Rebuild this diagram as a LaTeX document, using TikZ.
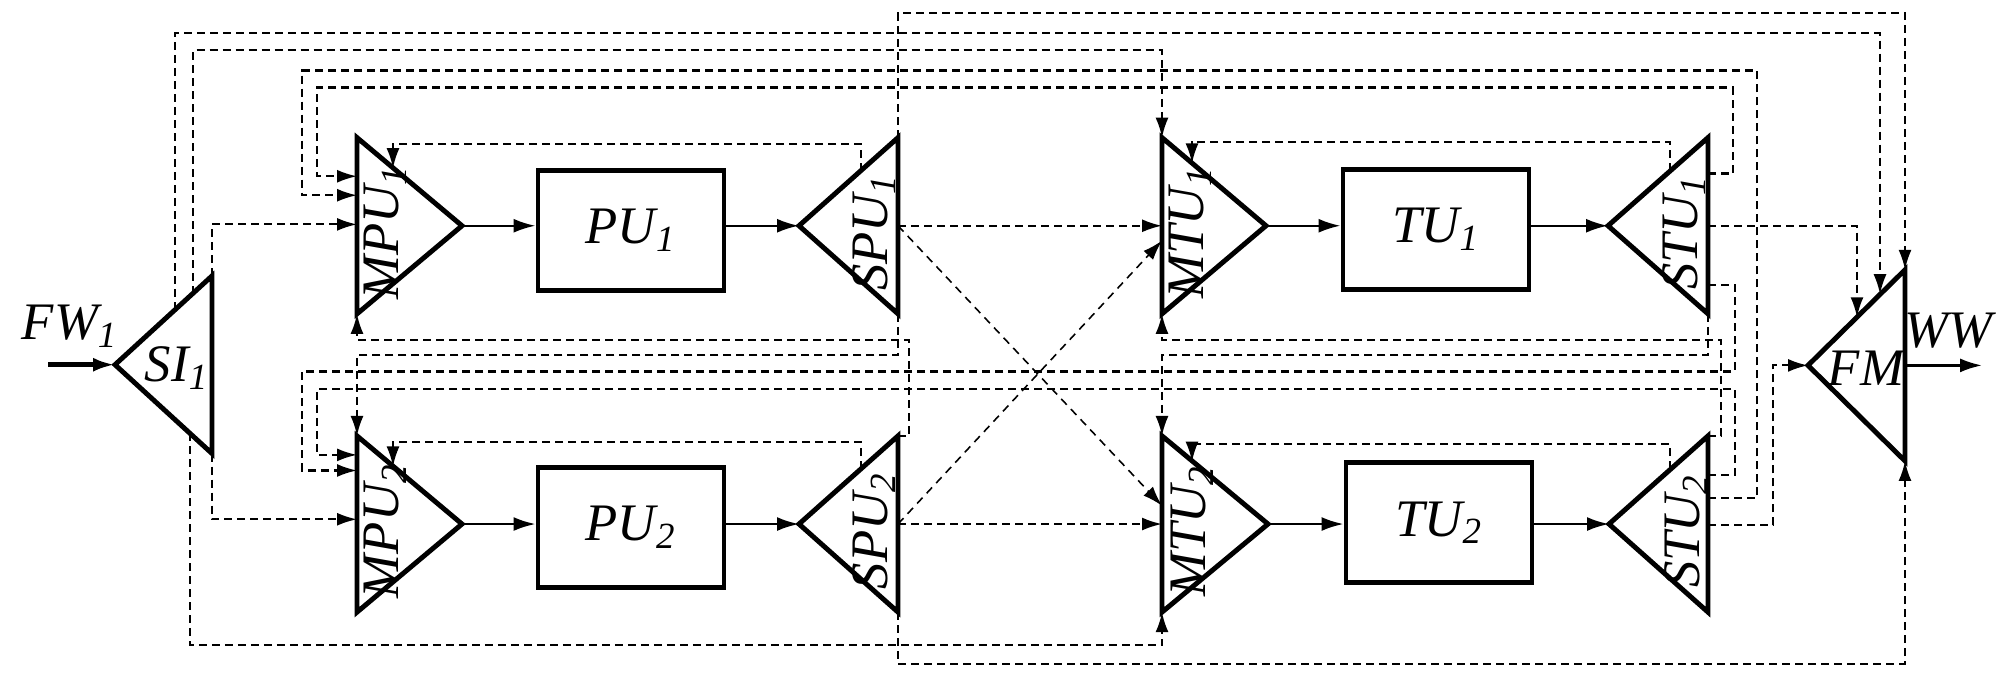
\documentclass[tikz,border=0pt]{standalone}
\usepackage{fontspec}
\setmainfont{Liberation Serif}
\usetikzlibrary{arrows.meta}

\tikzset{
 blk/.style={line width=1.4pt, line join=miter},
 box/.style={draw, line width=1.4pt, minimum width=18.6mm, minimum height=12mm},
 lbl/.style={font=\fontsize{15}{18}\selectfont\itshape, inner sep=0pt},
 flow/.style={line width=0.7pt, -{Latex[length=2.2mm,width=1.4mm]}},
 sig/.style={line width=0.6pt, dash pattern=on 0.8mm off 0.5mm, -{Latex[length=2mm,width=1.3mm]}}
}

% triangle: name, base x, top y, bottom y, apex x
\newcommand{\trig}[5]{%
 \coordinate (#1-t) at (#2,#3);
 \coordinate (#1-b) at (#2,#4);
 \coordinate (#1-a) at (#5,{(#3+#4)/2});
 \draw[blk] (#1-t) -- (#1-a) -- (#1-b) -- cycle;}

\begin{document}
\begin{tikzpicture}[x=0.1mm,y=-0.0678mm]
\useasboundingbox (0,-3) rectangle (1998,1003);
%\draw[help lines] (0,0) grid[step=100] (1998,1003);

 \trig{SI}{212}{404}{666}{115}
 \trig{MPU1}{357}{200}{460}{462}
 \trig{MPU2}{357}{640}{900}{462}
 \trig{SPU1}{898}{200}{460}{799}
 \trig{SPU2}{898}{640}{900}{799}
 \trig{MTU1}{1162}{200}{460}{1266}
 \trig{MTU2}{1162}{640}{900}{1268}
 \trig{STU1}{1708}{200}{460}{1608}
 \trig{STU2}{1708}{640}{900}{1609}
 \trig{FM}{1905}{395}{677}{1808}

 \node[box] (PU1) at (631,337) {};
 \node[box] (PU2) at (631,775) {};
 \node[box] (TU1) at (1436,335) {};
 \node[box] (TU2) at (1439,768) {};

 \node[lbl] at (PU1) {PU\textsubscript{1}};
 \node[lbl] at (PU2) {PU\textsubscript{2}};
 \node[lbl] at (TU1) {TU\textsubscript{1}};
 \node[lbl] at (TU2) {TU\textsubscript{2}};
 \node[lbl, rotate=90] (lMPU1) at (385,340) {MPU\textsubscript{1}};
 \node[lbl, rotate=90] (lMPU2) at (385,780) {MPU\textsubscript{2}};
 \node[lbl, rotate=90] (lSPU1) at (874,340) {SPU\textsubscript{1}};
 \node[lbl, rotate=90] (lSPU2) at (874,780) {SPU\textsubscript{2}};
 \node[lbl, rotate=90] (lMTU1) at (1190,340) {MTU\textsubscript{1}};
 \node[lbl, rotate=90] (lMTU2) at (1192,780) {MTU\textsubscript{2}};
 \node[lbl, rotate=90] (lSTU1) at (1684,340) {STU\textsubscript{1}};
 \node[lbl, rotate=90] (lSTU2) at (1686,780) {STU\textsubscript{2}};
 \node[lbl] (lSI) at (177,540) {SI\textsubscript{1}};
 \node[lbl] (lFM) at (1866,540) {FM};
 \node[lbl] (lFW) at (70,478) {FW\textsubscript{1}};
 \node[lbl] (lWW) at (1948,484) {WW};

 % main flow
 \coordinate (in) at (48,535);
 \coordinate (out) at (1982,536);
 \draw[line width=1.4pt, -{Latex[length=2.2mm,width=1.4mm]}] (in) -- (SI-a);
 \draw[flow] (FM-a -| FM-t) -- (out);
 \draw[flow] (MPU1-a) -- (PU1.west |- MPU1-a);
 \draw[flow] (PU1.east |- SPU1-a) -- (SPU1-a);
 \draw[flow] (MPU2-a) -- (PU2.west |- MPU2-a);
 \draw[flow] (PU2.east |- SPU2-a) -- (SPU2-a);
 \draw[flow] (MTU1-a) -- (TU1.west |- MTU1-a);
 \draw[flow] (TU1.east |- STU1-a) -- (STU1-a);
 \draw[flow] (MTU2-a) -- (TU2.west |- MTU2-a);
 \draw[flow] (TU2.east |- STU2-a) -- (STU2-a);

 % from SI1
 \draw[sig] (175,454) -- (175,46) -- (1880,46) -- (1880,431);
 \draw[sig] (193,430) -- (193,71) -- (1162,71) -- (MTU1-t);
 \draw[sig] (SI-t) -- (212,328) -- (357,328);
 \draw[sig] (SI-b) -- (212,763) -- (357,763);
 \draw[sig] (190,636) -- (190,949) -- (1162,949) -- (MTU2-b);

 % from STU to MPU
 \draw[sig] (1708,253) -- (1733,253) -- (1733,126) -- (317,126) -- (317,257) -- (357,257);
 \draw[sig] (1708,732) -- (1757,732) -- (1757,101) -- (302,101) -- (302,285) -- (357,285);
 \draw[sig] (1708,418) -- (1735,418) -- (1735,545) -- (302,545) -- (302,691) -- (357,691);
 \draw[sig] (1708,698) -- (1735,698) -- (1735,571) -- (317,571) -- (317,668) -- (357,668);

 % to FM
 \draw[sig] (1708,330) -- (1857,330) -- (1857,465);
 \draw[sig] (1708,772) -- (1773,772) -- (1773,536) -- (FM-a);
 \draw[sig] (SPU1-t) -- (898,16) -- (1905,16) -- (FM-t);
 \draw[sig] (SPU2-b) -- (898,976) -- (1905,976) -- (FM-b);

 % cross links
 \draw[sig] (SPU1-b) -- (898,521) -- (357,521) -- (MPU2-t);
 \draw[sig] (SPU2-t) -- (909,640) -- (909,499) -- (357,499) -- (MPU1-b);
 \draw[sig] (STU2-t) -- (1721,640) -- (1721,499) -- (1162,499) -- (MTU1-b);
 \draw[sig] (STU1-b) -- (1708,521) -- (1162,521) -- (MTU2-t);
 \draw[sig] (898,330) -- (1162,330);
 \draw[sig] (898,770) -- (1162,770);
 \draw[sig, dash pattern=on 0.8mm off 0.6mm, line width=0.45pt] (898,330) -- (1162,743);
 \draw[sig, dash pattern=on 0.8mm off 0.6mm, line width=0.45pt] (898,770) -- (1162,352);

 % feedback
 \draw[sig] (861,249) -- (861,209) -- (393,209) -- (393,245);
 \draw[sig] (861,689) -- (861,649) -- (393,649) -- (393,685);
 \draw[sig] (1670,249) -- (1670,206) -- (1192,206) -- (1192,238);
 \draw[sig] (1670,689) -- (1670,652) -- (1192,652) -- (1192,678);

\end{tikzpicture}
\end{document}
